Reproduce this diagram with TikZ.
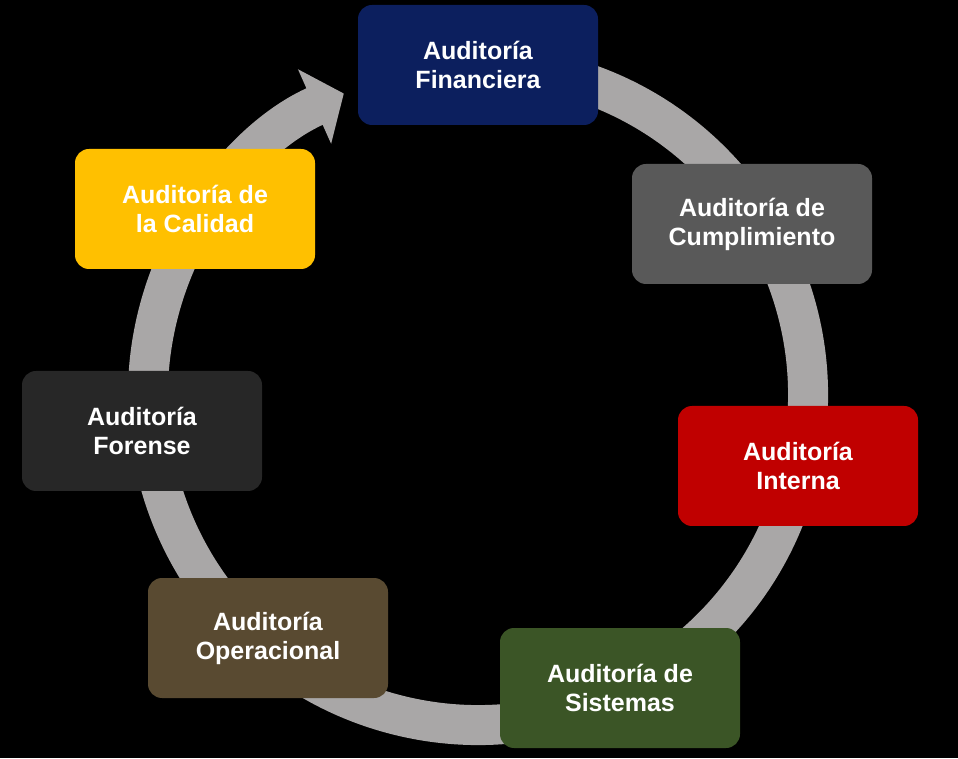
\documentclass[tikz,border=0pt]{standalone}
\usepackage{fontspec}
\setmainfont{Liberation Sans}
\usetikzlibrary{arrows.meta}
\definecolor{ringgray}{HTML}{A9A7A7}
\definecolor{cfin}{HTML}{0C1F5E}
\definecolor{ccum}{HTML}{595959}
\definecolor{cint}{HTML}{C00000}
\definecolor{csis}{HTML}{3B5526}
\definecolor{cope}{HTML}{594A31}
\definecolor{cfor}{HTML}{272727}
\definecolor{ccal}{HTML}{FFC000}
\begin{document}
\begin{tikzpicture}[x=1pt,y=1pt,
    box/.style={minimum width=240pt,minimum height=120pt,rounded corners=14pt,
      font=\bfseries\fontsize{25}{29}\selectfont,text=white,align=center,inner sep=2pt}]
  \fill[black] (0,0) rectangle (958,758);
  \useasboundingbox (0,0) rectangle (958,758);
  % ring with arrow head
  \draw[ringgray,line width=40pt,-{Triangle[length=32pt,width=80pt]}]
    (478,363) ++(75:330) arc[start angle=75,end angle=-246,radius=330];
  % boxes
  \node[box,fill=cfin] (fin) at (478,693) {Auditoría\\Financiera};
  \node[box,fill=ccum] (cum) at (752,534) {Auditoría de\\Cumplimiento};
  \node[box,fill=cint] (int) at (798,292) {Auditoría\\Interna};
  \node[box,fill=csis] (sis) at (620,70) {Auditoría de\\Sistemas};
  \node[box,fill=cope] (ope) at (268,120) {Auditoría\\Operacional};
  \node[box,fill=cfor] (for) at (142,327) {Auditoría\\Forense};
  \node[box,fill=ccal] (cal) at (195,549) {Auditoría de\\la Calidad};
\end{tikzpicture}
\end{document}
